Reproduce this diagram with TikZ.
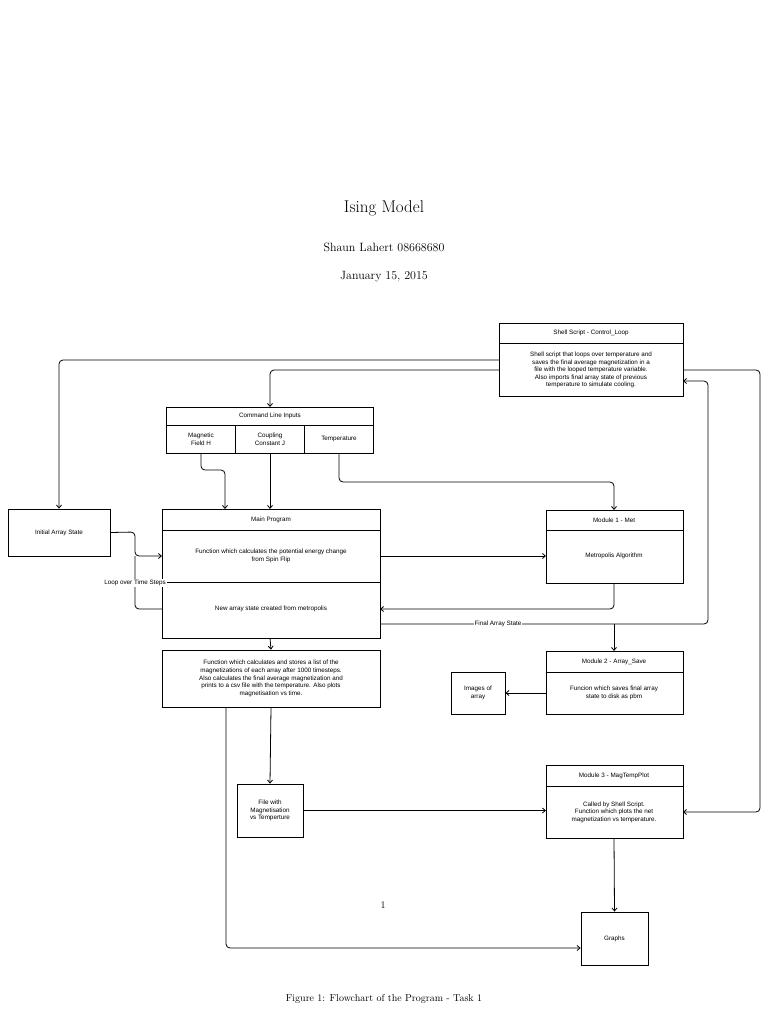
\documentclass[tikz,border=0pt]{standalone}
\usepackage{fontspec}
\newfontfamily\sansf{Liberation Sans}
\usetikzlibrary{arrows.meta}
\begin{document}
\begin{tikzpicture}[x=1pt,y=-1pt,
 bx/.style={draw,line width=0.8pt},
 dv/.style={line width=0.6pt},
 t/.style={font=\sansf\fontsize{6.3}{7.6}\selectfont,align=center,inner sep=0},
 ar/.style={line width=0.8pt,rounded corners=4pt,-{Straight Barb[length=3pt,width=5pt]}},
 ln/.style={line width=0.8pt,rounded corners=4pt}]
\useasboundingbox (0,0) rectangle (768,1024);
\node[font=\fontsize{17}{20}\selectfont] (title) at (384,208) {Ising Model};
\node[font=\fontsize{12}{14}\selectfont] (auth) at (384,247) {Shaun Lahert 08668680};
\node[font=\fontsize{12}{14}\selectfont] (date) at (384,277) {January 15, 2015};
\node[font=\fontsize{10}{12}\selectfont] (pg) at (383,905) {1};
\node[font=\fontsize{10}{12}\selectfont] (cap) at (384,999) {Figure 1: Flowchart of the Program - Task 1};
% boxes
\draw[bx] (499,323) rectangle (683,396); \draw[dv] (499,343)--(683,343);
\node[t] (shh) at (591,333) {Shell Script - Control\_Loop};
\node[t] (shb) at (591,370) {Shell script that loops over temperature and\\saves the final average magnetization in a\\file with the looped temperature variable.\\Also imports final array state of previous\\temperature to simulate cooling.};
\coordinate (shL1) at (499,360); \coordinate (shL2) at (499,370);
\coordinate (shR1) at (683,370); \coordinate (shR2) at (683,381);
\draw[bx] (166,407) rectangle (373,453); \draw[dv] (166,425)--(373,425);
\draw[dv] (235,425)--(235,453); \draw[dv] (304,425)--(304,453);
\node[t] (cli) at (270,416) {Command Line Inputs};
\node[t] (mag) at (201,439) {Magnetic\\Field H};
\node[t] (cpl) at (270,439) {Coupling\\Constant J};
\node[t] (tmp) at (339,439) {Temperature};
\node[bx,t,minimum width=102pt,minimum height=47pt] (init) at (59,532.5) {Initial Array State};
\draw[bx] (162,509) rectangle (380,638); \draw[dv] (162,530)--(380,530); \draw[dv] (162,582)--(380,582);
\node[t] (mph) at (271,519.5) {Main Program};
\node[t] (mp1) at (271,556) {Function which calculates the potential energy change\\from Spin Flip};
\node[t] (mp2) at (271,609) {New array state created from metropolis};
\draw[bx] (546,510) rectangle (683,583); \draw[dv] (546,530)--(683,530);
\node[t] (m1h) at (614,520) {Module 1 - Met};
\node[t] (m1b) at (614,556) {Metropolis Algorithm};
\node[bx,t,minimum width=218pt,minimum height=57pt] (fn) at (271,678.5) {Function which calculates and stores a list of the\\magnetizations of each array after 1000 timesteps.\\Also calculates the final average magnetization  and\\prints to a csv file with the temperature. Also plots\\magnetisation vs time.};
\draw[bx] (546,651) rectangle (683,714); \draw[dv] (546,672)--(683,672);
\node[t] (m2h) at (614,661.5) {Module 2 - Array\_Save};
\node[t] (m2b) at (614,693) {Funcion which saves final array\\state to disk as pbm};
\node[bx,t,minimum width=54pt,minimum height=42pt] (img) at (478,693) {Images of\\array};
\node[bx,t,minimum width=66pt,minimum height=53pt] (file) at (270,810.5) {File with\\Magnetisation\\vs Temperture};
\draw[bx] (546,765) rectangle (683,838); \draw[dv] (546,786)--(683,786);
\node[t] (m3h) at (614,775.5) {Module 3 - MagTempPlot};
\node[t] (m3b) at (614,812) {Called by Shell Script.\\Function which plots the net\\magnetization vs temperature.};
\node[bx,t,minimum width=67pt,minimum height=53pt] (gr) at (614.5,938.5) {Graphs};
% connectors
\draw[ar] (shL1) -| (init.north);
\draw[ar] (shL2) -| (cli.north |- 0,407);
\draw[ar] (shR1) -- (760,370) |- (683,812);
\draw[ar] (mag.south |- 0,453) -- (201,470) -| (225,509);
\draw[ar] (cpl.south |- 0,453) -- (270,509);
\draw[ar] (tmp.south |- 0,453) -- (339,482) -| (614,510);
\draw[ar] (init.east) -- (135,532) |- (162,556);
\draw[ln] (162,609) -| (135,556);
\node[t,fill=white,inner sep=1pt] (loop) at (135,583) {Loop over Time Steps};
\draw[ar] (380,556) -- (546,556);
\draw[ar] (614,583) |- (380,609);
\draw[ar] (380,624) -- (708,624) |- (shR2);
\draw[ar] (614,624) -- (614,651);
\node[t,fill=white,inner sep=1pt] (fas) at (498,624) {Final Array State};
\draw[ar] (270,638) -- (fn.north);
\draw[ar] (fn.south) -- (file.north);
\draw[ar] (226,707) |- (gr.west |- 0,948);
\draw[ar] (file.east) -- (546,810.5);
\draw[ar] (546,693) -- (img.east);
\draw[ar] (614,838) -- (gr.north);
\end{tikzpicture}
\end{document}
